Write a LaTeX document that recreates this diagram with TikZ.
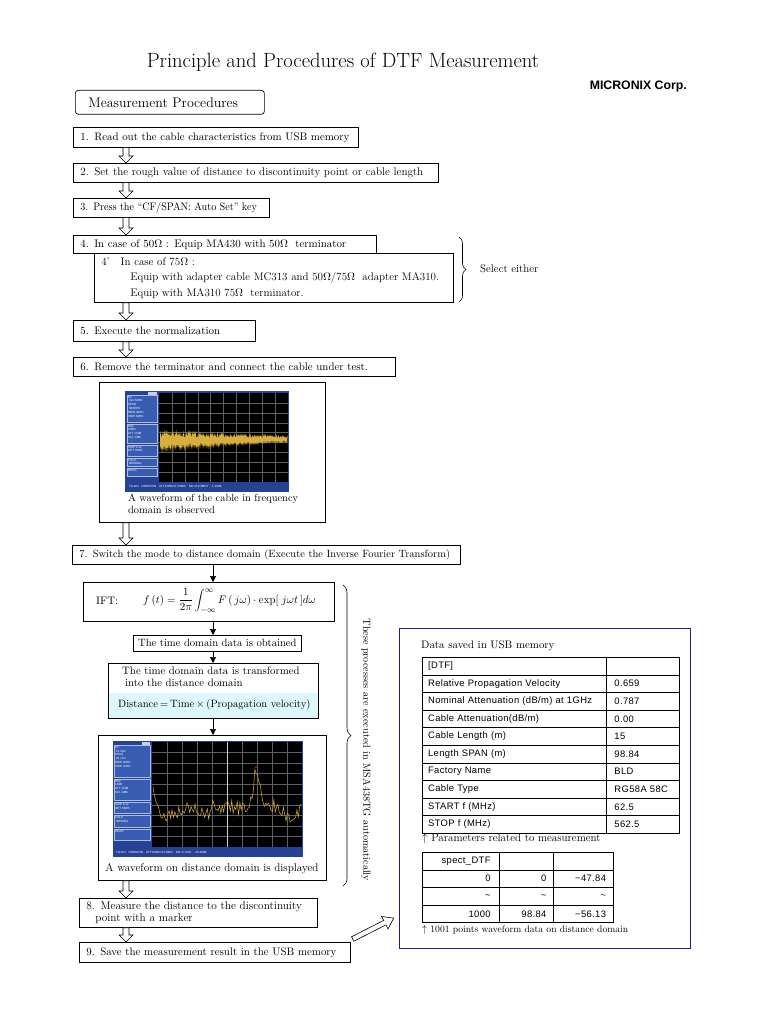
\documentclass[tikz,border=0pt]{standalone}
\usepackage{fontspec}
\usepackage{graphicx}
\newfontfamily\sansf{Liberation Sans}
\newfontfamily\sanstab[LetterSpace=4]{Liberation Sans}
\usetikzlibrary{decorations.pathreplacing,arrows.meta,calc,matrix}
\definecolor{scrblue}{RGB}{38,66,150}
\definecolor{scrbox}{RGB}{55,92,178}
\definecolor{gridc}{RGB}{95,95,95}
\definecolor{wave}{RGB}{215,175,60}
\definecolor{cyanband}{RGB}{220,248,252}
\definecolor{navy}{RGB}{30,30,140}
\newcommand\stepfont{\fontsize{10.9}{12.5}\selectfont}
\newcommand\tabfont{\sanstab\fontsize{9.4}{10}\selectfont}
\newcommand\harrow[2]{\draw[fill=white, line width=0.6pt] let \p1=(#1), \p2=(#2) in (\x1-3pt,\y1) -- (\x1+3pt,\y1) -- (\x1+3pt,\y2+7pt) -- (\x1+7pt,\y2+7pt) -- (\x1,\y2) -- (\x1-7pt,\y2+7pt) -- (\x1-3pt,\y2+7pt) -- cycle;}
\newcommand\scrbox[6]{\draw[fill=scrbox, draw=white!60!scrbox, line width=0.3pt] (#1,#2) rectangle (#3,#4); \node[scrtxt] (#5) at (#1+1,#2+0.8) {#6};}
\begin{document}
\begin{tikzpicture}[x=1pt, y=-1pt,
  stepbox/.style={draw, line width=0.7pt, anchor=north west, inner xsep=7pt, inner ysep=0pt, align=left, font=\stepfont},
  txt/.style={inner sep=0pt, anchor=west, font=\stepfont},
  scrtxt/.style={inner sep=0pt, anchor=north west, align=left, text=white, font=\sansf\fontsize{3}{3.9}\selectfont},
  solidarrow/.style={-{Triangle[length=6pt,width=6pt]}, line width=0.7pt},
  gridline/.style={gridc, line width=0.3pt}]
\useasboundingbox (0,0) rectangle (768,1024);
\coordinate (ax) at (126,0);
\coordinate (cx) at (213,0);

% title
\node[font=\fontsize{20.6}{23}\selectfont] (title) at (343,62) {Principle and Procedures of DTF Measurement};
\node[anchor=east, inner sep=0pt, font=\sansf\bfseries\fontsize{12.3}{14}\selectfont] (corp) at (687,86) {MICRONIX Corp.};
\node[draw, rounded corners=3pt, line width=0.7pt, anchor=north west, minimum width=189pt, minimum height=24pt, text width=163pt, inner xsep=13pt, align=left, font=\fontsize{13.9}{15}\selectfont] (mp) at (75,90) {Measurement Procedures};

% steps
\node[stepbox, minimum width=285pt, minimum height=20pt, text width=271pt] (s1) at (73,127) {1. Read out the cable characteristics from USB memory};
\node[stepbox, minimum width=365pt, minimum height=19pt, text width=351pt, font=\fontsize{11.1}{12.5}\selectfont] (s2) at (73,163) {\mbox{2. Set the rough value of distance to discontinuity point or cable length}};
\node[stepbox, minimum width=196pt, minimum height=19pt, text width=182pt] (s3) at (73,198) {\scalebox{0.93}[1]{3. Press the ``CF/SPAN: Auto Set'' key}};
\node[stepbox, fill=white, minimum width=359pt, minimum height=49pt, text width=345pt, font=\fontsize{11}{15.5}\selectfont] (s4b) at (94,253) {4'\hspace{1em}In case of 75$\Omega$ :\\\hspace*{29pt}Equip with adapter cable MC313 and 50$\Omega$/75$\Omega$\ \ adapter MA310.\\\hspace*{29pt}Equip with MA310 75$\Omega$\ \ terminator.};
\node[stepbox, fill=white, minimum width=303pt, minimum height=18pt, text width=289pt] (s4) at (73,235) {4. In case of 50$\Omega$\ : Equip MA430 with 50$\Omega$\ \ terminator};
\node[stepbox, minimum width=182pt, minimum height=21pt, text width=168pt] (s5) at (73,320) {5. Execute the normalization};
\node[stepbox, minimum width=322pt, minimum height=19pt, text width=308pt] (s6) at (73,357) {6. Remove the terminator and connect the cable under test.};

% select either brace
\draw[decorate, decoration={brace, amplitude=7pt}, line width=0.6pt] (459,237) -- (459,302);
\node[txt, font=\fontsize{11}{12}\selectfont] (sel) at (480,269) {Select either};

% screenshot box 1
\node[draw, line width=0.7pt, anchor=north west, minimum width=226pt, minimum height=140pt] (shot1) at (99,382) {};
\fill[scrblue] (125,391) rectangle (289,492);
\fill[black] (159,393) rectangle (288,482);
\foreach \i in {1,...,9} \draw[gridline] ({159+\i*12.9},393) -- ({159+\i*12.9},482);
\foreach \j in {1,...,8} \draw[gridline] (159,{393+\j*9.89}) -- (288,{393+\j*9.89});
\pgfmathsetseed{3}
\draw[wave, line width=0.35pt] plot[domain=0:255, samples=256] ({160+\x*0.5}, {(882-4*\x/255)/2 + cos(180*mod(\x,2))*((24-16*\x/255)/2)*(0.5+0.5*rnd)});
\fill[red] (248,443) circle (1pt);
\fill[white!75!scrblue] (148,392) rectangle (157,394.5);
\scrbox{127}{395}{157}{422}{a1}{CF\\\ 312.5MHz\\SPAN\\\ 500MHz\\RBW 3MHz\\VBW 3MHz}
\scrbox{127}{424}{157}{443}{b1}{REF\\0dBm\\ATT 15dB\\SCL 2dB/}
\scrbox{127}{445}{157}{456}{c1}{SWP 0.1s\\DET SMPL}
\scrbox{127}{458}{157}{466}{d1}{CALC\\\ NORMAL}
\scrbox{127}{468}{157}{476}{e1}{MEAS}
\node[scrtxt, anchor=west] (f1) at (129,486) {TG:ON\quad NORM:ON\quad ATT15dBm/172dBm\quad MK:410.5MHz\quad -1.10dB};
\node[inner sep=0pt, anchor=north west, align=left, font=\fontsize{10.4}{12}\selectfont] (cap1) at (128,494) {A waveform of the cable in frequency\\domain is observed};

% step 7 and IFT
\node[stepbox, minimum width=388pt, minimum height=19pt, text width=374pt, font=\fontsize{10.5}{12.5}\selectfont] (s7) at (72,545) {\mbox{7. Switch the mode to distance domain (Execute the Inverse Fourier Transform)}};
\node[draw, line width=0.7pt, anchor=north west, minimum width=251pt, minimum height=39pt] (ift) at (83,582) {};
\node[txt] (iftl) at (96,601) {IFT:};
\node[txt] (iftf) at (143,601) {$\displaystyle f\,(t)=\frac{1}{2\pi}\int_{-\infty}^{\infty}F\,(\,j\omega)\cdot\exp[\;j\omega t\,]d\omega$};
\node[draw, line width=0.7pt, anchor=north west, minimum width=168pt, minimum height=16pt, inner sep=0pt, font=\fontsize{10.6}{12}\selectfont] (tdo) at (133,635) {The time domain data is obtained};
\fill[cyanband] (108.4,693) rectangle (317.6,717.6);
\node[draw, line width=0.7pt, anchor=north west, minimum width=210pt, minimum height=55pt] (tdd) at (108,663) {};
\node[txt, font=\fontsize{10.8}{12}\selectfont] (tdd1) at (122,671) {The time domain data is transformed};
\node[txt, font=\fontsize{10.8}{12}\selectfont] (tdd2) at (125,683) {into the distance domain};
\node[txt, font=\fontsize{10.6}{12}\selectfont] (tdd3) at (118,705) {Distance\,$=$\,Time\,$\times$\,(Propagation velocity)};

% screenshot box 2
\node[draw, line width=0.7pt, anchor=north west, minimum width=228pt, minimum height=145pt] (shot2) at (98,735) {};
\fill[scrblue] (113,741) rectangle (303,857);
\fill[black] (152,742) rectangle (302,847);
\foreach \i in {1,...,9} \draw[gridline] ({152+\i*15},742) -- ({152+\i*15},847);
\foreach \j in {1,...,9} \draw[gridline] (152,{742+\j*10.5}) -- (302,{742+\j*10.5});
\draw[white!70!gridc, line width=0.4pt] (227,742) -- (227,847);
\pgfmathsetseed{11}
\draw[wave, line width=0.5pt] plot[domain=153:301, samples=110] (\x, {812 + 4*sin(\x*9) - 44/(1+((\x-256)/4)^2) - 14/(1+((\x-212)/1.5)^2) - 22*exp(-(\x-153)/2) + 7*rand});
\fill[red] (256,767) circle (1pt);
\fill[white!75!scrblue] (142,742) rectangle (150,744.5);
\scrbox{114}{745}{150}{777}{a2}{CF\\\ 12.35m\\SPAN\\\ 24.71m\\RBW 3MHz\\VBW 1MHz}
\scrbox{114}{779}{150}{800}{b2}{REF\\10dB\\ATT 15dB\\SCL 2dB/}
\scrbox{114}{802}{150}{813}{c2}{SWP 0.1s\\DET SMPL}
\scrbox{114}{815}{150}{827}{d2}{CALC\\\ NORMAL}
\scrbox{114}{829}{150}{840}{e2}{MEAS}
\node[scrtxt, anchor=west] (f2) at (116,852) {TG:ON\quad NORM:ON\quad ATT15dBm/172dBm\quad MK:17.20m\quad -15.46dB};
\node[inner sep=0pt, font=\fontsize{11.2}{12}\selectfont] (cap2) at (212,869) {A waveform on distance domain is displayed};

% automatic brace
\draw[decorate, decoration={brace, amplitude=8pt}, line width=0.6pt] (343,585) -- (343,886);
\node[rotate=-90, inner sep=0pt, font=\fontsize{10.2}{12}\selectfont] (auto) at (366,750) {These processes are executed in MSA438TG automatically};

% steps 8, 9
\node[stepbox, minimum width=238pt, minimum height=29pt, text width=224pt, font=\fontsize{11.3}{12}\selectfont] (s8) at (79,898) {8. Measure the distance to the discontinuity\\\hspace*{9pt}point with a marker};
\node[stepbox, minimum width=271pt, minimum height=20pt, text width=257pt] (s9) at (79,942) {9. Save the measurement result in the USB memory};

% connectors
\harrow{s1.south -| ax}{s2.north -| ax}
\harrow{s2.south -| ax}{s3.north -| ax}
\harrow{s3.south -| ax}{s4.north -| ax}
\harrow{s4b.south -| ax}{s5.north -| ax}
\harrow{s5.south -| ax}{s6.north -| ax}
\harrow{shot1.south -| ax}{s7.north -| ax}
\harrow{shot2.south -| ax}{s8.north -| ax}
\harrow{s8.south -| ax}{s9.north -| ax}
\draw[solidarrow] (s7.south -| cx) -- (ift.north -| cx);
\draw[solidarrow] (ift.south -| cx) -- (tdo.north -| cx);
\draw[solidarrow] (tdo.south -| cx) -- (tdd.north -| cx);
\draw[solidarrow] (tdd.south -| cx) -- (shot2.north -| cx);

% right panel
\node[draw=navy, line width=1pt, anchor=north west, minimum width=291pt, minimum height=320pt] (rb) at (399,628) {};
\coordinate (da) at ($(s9.north east)+(2,-3)$);
\begin{scope}[shift={(da)}, rotate=27]
\draw[fill=white, line width=0.6pt] (0,-2.5) -- (36,-2.5) -- (36,-7) -- (46,0) -- (36,7) -- (36,2.5) -- (0,2.5) -- cycle;
\end{scope}
\node[txt] (ds) at (421,646) {Data saved in USB memory};
\matrix (t1) [matrix of nodes, nodes in empty cells, anchor=north west, inner sep=0pt, outer sep=0pt, row sep=-0.6pt, column sep=-0.6pt,
  nodes={draw, line width=0.6pt, minimum height=17.6pt, inner sep=0pt, outer sep=0pt, font=\tabfont, anchor=center},
  column 1/.style={nodes={text width=172pt, minimum width=184.6pt, align=left}},
  column 2/.style={nodes={text width=57pt, minimum width=73.1pt, align=left}}] at (421.5,657) {
[DTF] & \\
Relative Propagation Velocity & 0.659\\
Nominal Attenuation (dB/m) at 1GHz & 0.787\\
Cable Attenuation(dB/m) & 0.00\\
Cable Length (m) & 15\\
Length SPAN (m) & 98.84\\
Factory Name & BLD\\
Cable Type & RG58A 58C\\
START f (MHz) & 62.5\\
STOP f (MHz) & 562.5\\
};
\node[txt, font=\fontsize{11.1}{12}\selectfont] (prm) at (422,839) {$\uparrow$ Parameters related to measurement};
\matrix (t2) [matrix of nodes, nodes in empty cells, anchor=north west, inner sep=0pt, outer sep=0pt, row sep=-0.6pt, column sep=-0.6pt,
  nodes={draw, line width=0.6pt, minimum height=17.6pt, inner sep=0pt, outer sep=0pt, font=\tabfont, anchor=center, align=right},
  column 1/.style={nodes={text width=60pt, minimum width=77.6pt}},
  column 2/.style={nodes={text width=40pt, minimum width=54.1pt}},
  column 3/.style={nodes={text width=45pt, minimum width=60.1pt}}] at (421.5,852) {
spect\_DTF & & \\
0 & 0 & −47.84\\
\textasciitilde & \textasciitilde & \textasciitilde\\
1000 & 98.84 & −56.13\\
};
\node[txt, font=\fontsize{9.6}{11}\selectfont] (pts) at (422,930) {$\uparrow$ 1001 points waveform data on distance domain};
\end{tikzpicture}
\end{document}
